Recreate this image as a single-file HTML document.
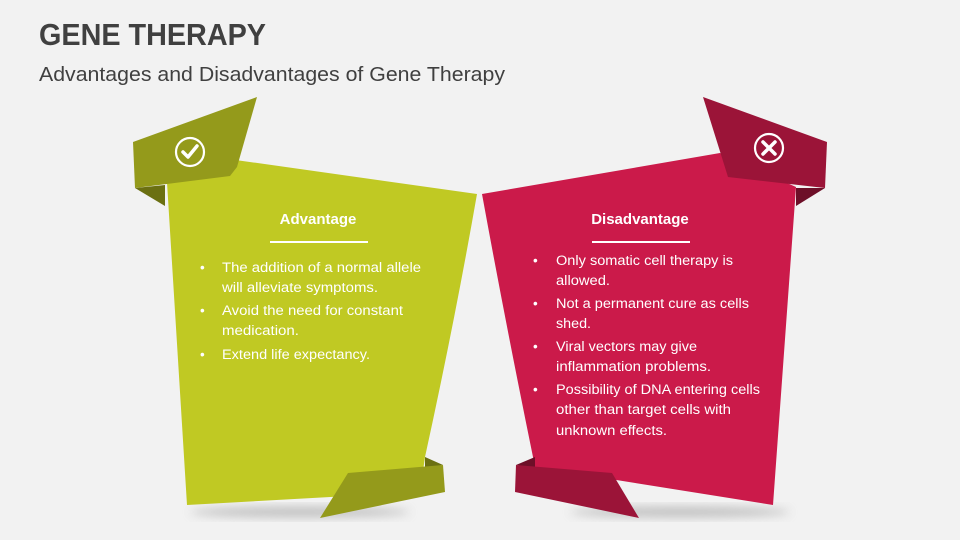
<!DOCTYPE html>
<html><head><meta charset="utf-8"><style>
html,body{margin:0;padding:0;background:#f2f2f2;}
svg{display:block;font-family:"Liberation Sans",sans-serif;}
</style></head><body>
<svg width="960" height="540" viewBox="0 0 960 540" xmlns="http://www.w3.org/2000/svg">
<defs>
<filter id="sh" x="-20%" y="-50%" width="140%" height="200%"><feGaussianBlur stdDeviation="5"/></filter>
</defs>
<rect width="960" height="540" fill="#f2f2f2"/>
<text x="39" y="45" font-size="31" font-weight="bold" fill="#404040" textLength="227" lengthAdjust="spacingAndGlyphs">GENE THERAPY</text>
<text x="39" y="81" font-size="20" fill="#404040" textLength="466" lengthAdjust="spacingAndGlyphs">Advantages and Disadvantages of Gene Therapy</text>

<!-- shadows -->
<ellipse cx="300" cy="512" rx="110" ry="5" fill="#999" opacity="0.6" filter="url(#sh)"/>
<ellipse cx="680" cy="512" rx="110" ry="5" fill="#999" opacity="0.6" filter="url(#sh)"/>

<!-- LEFT -->
<polygon points="135,188 165,185 165,206" fill="#6b7012"/>
<path d="M165,150 L477,194 Q455,320 425,457 L420,492 L187,505 Z" fill="#c0c923"/>
<polygon points="133,142 257,97 237,167 230,176 135,188" fill="#949a1b"/>
<polygon points="425,457 443,465 425,468" fill="#6b7012"/>
<polygon points="348,473 443,465 445,492 320,518" fill="#949a1b"/>
<circle cx="190" cy="152" r="14" fill="none" stroke="#fff" stroke-width="2.2"/>
<path d="M183,152 L188,157 L197,146" fill="none" stroke="#fff" stroke-width="3.5" stroke-linecap="round" stroke-linejoin="round"/>
<text x="318" y="224" font-size="15" font-weight="bold" fill="#fff" text-anchor="middle">Advantage</text>
<rect x="270" y="241" width="98" height="2" fill="#fff"/>
<g font-size="13.5" fill="#fff">
<text x="200" y="272">•</text>
<text x="222" y="272" textLength="199" lengthAdjust="spacingAndGlyphs">The addition of a normal allele</text>
<text x="222" y="292" textLength="156" lengthAdjust="spacingAndGlyphs">will alleviate symptoms.</text>
<text x="200" y="315">•</text>
<text x="222" y="315" textLength="181" lengthAdjust="spacingAndGlyphs">Avoid the need for constant</text>
<text x="222" y="335" textLength="77" lengthAdjust="spacingAndGlyphs">medication.</text>
<text x="200" y="359">•</text>
<text x="222" y="359" textLength="148" lengthAdjust="spacingAndGlyphs">Extend life expectancy.</text>
</g>

<!-- RIGHT -->
<polygon points="796,188 825,188 796,206" fill="#6d0f28"/>
<path d="M482,194 L720,153 L796,187 L773,505 L535,467 L533,457 Q505,320 482,194 Z" fill="#cb1a4a"/>
<polygon points="703,97 827,142 825,188 728,177" fill="#9b1438"/>
<polygon points="516,465 535,457 535,468" fill="#6d0f28"/>
<polygon points="516,465 612,473 639,518 515,492" fill="#9b1438"/>
<circle cx="769" cy="148" r="14" fill="none" stroke="#fff" stroke-width="2.2"/>
<path d="M763,142 L775,154 M775,142 L763,154" stroke="#fff" stroke-width="3.5" stroke-linecap="round"/>
<text x="640" y="224" font-size="15" font-weight="bold" fill="#fff" text-anchor="middle">Disadvantage</text>
<rect x="592" y="241" width="98" height="2" fill="#fff"/>
<g font-size="13.5" fill="#fff">
<text x="533" y="265">•</text>
<text x="556" y="265" textLength="177" lengthAdjust="spacingAndGlyphs">Only somatic cell therapy is</text>
<text x="556" y="285" textLength="54" lengthAdjust="spacingAndGlyphs">allowed.</text>
<text x="533" y="308">•</text>
<text x="556" y="308" textLength="193" lengthAdjust="spacingAndGlyphs">Not a permanent cure as cells</text>
<text x="556" y="328" textLength="35" lengthAdjust="spacingAndGlyphs">shed.</text>
<text x="533" y="351">•</text>
<text x="556" y="351" textLength="141" lengthAdjust="spacingAndGlyphs">Viral vectors may give</text>
<text x="556" y="371" textLength="155" lengthAdjust="spacingAndGlyphs">inflammation problems.</text>
<text x="533" y="394">•</text>
<text x="556" y="394" textLength="204" lengthAdjust="spacingAndGlyphs">Possibility of DNA entering cells</text>
<text x="556" y="414" textLength="175" lengthAdjust="spacingAndGlyphs">other than target cells with</text>
<text x="556" y="435" textLength="111" lengthAdjust="spacingAndGlyphs">unknown effects.</text>
</g>
</svg>
</body></html>
